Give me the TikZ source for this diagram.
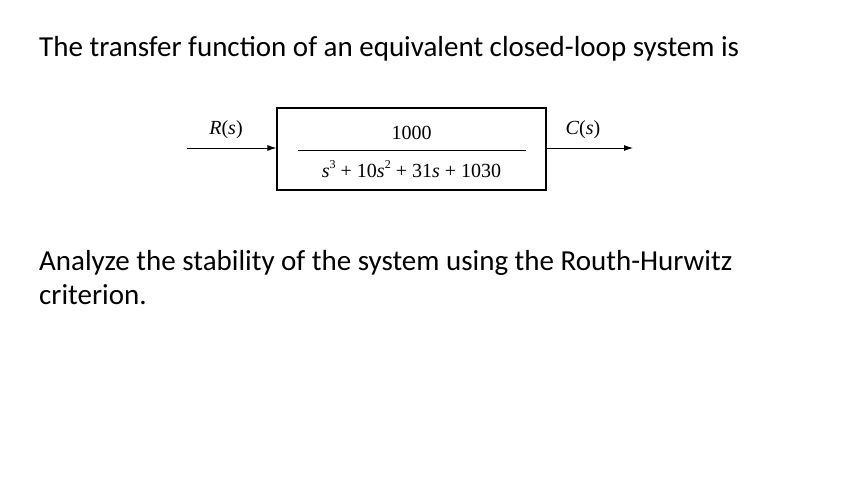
\documentclass[tikz,border=0pt]{standalone}
\usepackage{fontspec}
\setmainfont{Carlito}
\newfontfamily\tms{Liberation Serif}
\usetikzlibrary{arrows.meta}
\newcommand{\vs}{\textit{s}}
\newcommand{\spw}[1]{\raisebox{0.45em}{\fontsize{12}{12}\selectfont #1}}
\tikzset{blk/.style={draw,line width=1.2pt,minimum width=269pt,minimum height=82pt,inner sep=0pt},
sig/.style={-{Latex[length=9pt,width=6pt]},line width=0.9pt},
lab/.style={font=\tms\fontsize{20}{24}\selectfont}}
\begin{document}
\begin{tikzpicture}[x=1pt,y=-1pt]
\useasboundingbox (0,0) rectangle (853,483);
\node[anchor=west,inner sep=0pt,font=\fontsize{29}{35}\selectfont] (t1) at (39,49) {The transfer function of an equivalent closed-loop system is};
\node[blk] (g) at (411.5,149) {};
\node[lab] (num) at (411.5,133) {1000};
\node[lab] (den) at (411.5,169) {\vs\spw{3} + 10\vs\spw{2} + 31\vs\ + 1030};
\draw[line width=0.6pt] (298,150) -- (526,150);
\coordinate (in) at (187,148);
\coordinate (out) at (633,148);
\draw[sig] (in) -- (g.west |- in);
\draw[sig] (g.east |- out) -- (out);
\node[lab] (r) at (226,130) {\textit{R}(\vs)};
\node[lab] (c) at (583,130) {\textit{C}(\vs)};
\node[anchor=west,inner sep=0pt,align=left,font=\fontsize{29}{34}\selectfont] (t2) at (39,278) {Analyze the stability of the system using the Routh-Hurwitz\\criterion.};
\end{tikzpicture}
\end{document}
